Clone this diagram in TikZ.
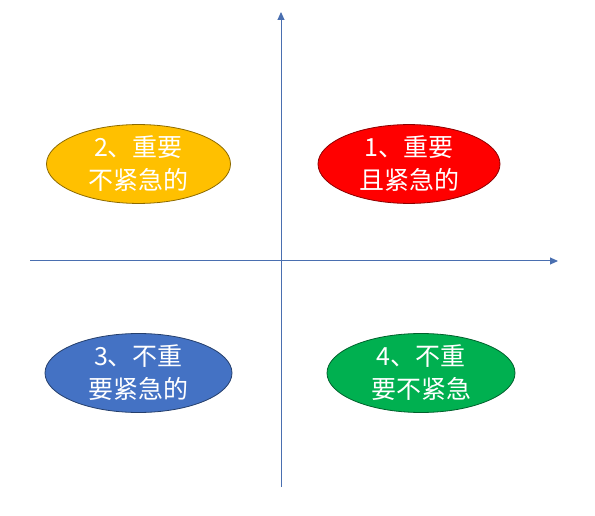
\documentclass[tikz,border=0pt]{standalone}
\usepackage{fontspec}
\setmainfont{Noto Sans CJK SC}
\usetikzlibrary{shapes.geometric,arrows.meta}
\definecolor{qd01}{HTML}{FF0000}
\definecolor{qd02}{HTML}{FFC000}
\definecolor{qd03}{HTML}{4472C4}
\definecolor{qd04}{HTML}{00B050}
\definecolor{axis}{HTML}{4A6FB0}
\tikzset{
  quad/.style={ellipse, draw=#1!55!black, fill=#1, line width=0.8pt, text=white,
    inner sep=0pt, minimum height=70pt, align=center,
    font=\fontsize{25}{33}\selectfont},
  axisline/.style={draw=axis, line width=1pt, -{Triangle[length=8pt,width=7pt]}}
}
\begin{document}
\begin{tikzpicture}[x=1pt,y=1pt]
            \useasboundingbox (0,0) rectangle (595,515);
            % axes
            \coordinate (ybot) at (281,28);
            \coordinate (ytop) at (281,503);
            \coordinate (xleft) at (30,254);
            \coordinate (xright) at (558,254);
            \draw[axisline] (ybot) -- (ytop);
            \draw[axisline] (xleft) -- (xright);
            % quadrants
            \node[quad=qd02, minimum width=184pt] (imp) at (138.5,351) {2、重要\\不紧急的};
            \node[quad=qd01, minimum width=182pt] (urg) at (409,351) {1、重要\\且紧急的};
            \node[quad=qd03, minimum width=187pt] (nimp) at (138.5,142) {3、不重\\要紧急的};
            \node[quad=qd04, minimum width=188pt, minimum height=67pt] (none) at (421,142) {4、不重\\要不紧急};
        \end{tikzpicture}
\end{document}
